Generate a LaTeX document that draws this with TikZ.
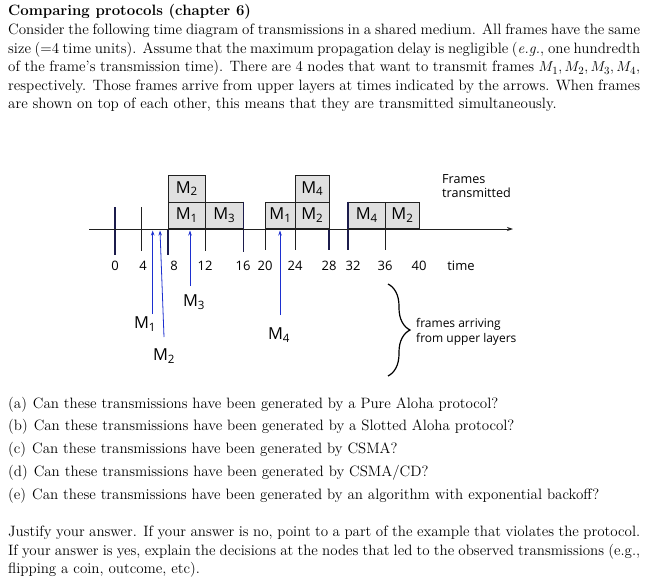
\documentclass[tikz,border=0pt]{standalone}
\usepackage{fontspec}
\setmainfont{lmroman12-regular.otf}[BoldFont=lmroman12-bold.otf,ItalicFont=lmroman12-italic.otf]
\newfontfamily\dfont{Open Sans}
\usetikzlibrary{arrows.meta,decorations.pathreplacing}
\definecolor{boxfill}{HTML}{E0E0E0}
\definecolor{boxline}{HTML}{202020}
\definecolor{arrblue}{HTML}{1C2FD0}
\definecolor{slotline}{HTML}{1C1C4C}
\begin{document}
\begin{tikzpicture}[x=1pt,y=-1pt,
  frm/.style={draw=boxline,fill=boxfill,line width=0.9pt,inner sep=0pt,minimum height=26.5pt,anchor=south west,font=\dfont\fontsize{16.5}{16}\selectfont},
  tk/.style={line width=0.9pt,boxline},
  slot/.style={line width=1.6pt,slotline},
  num/.style={font=\dfont\fontsize{13}{13}\selectfont,inner sep=0pt},
  lab/.style={font=\dfont\fontsize{12.6}{14.5}\selectfont,inner sep=0pt,align=left},
  mlab/.style={font=\dfont\fontsize{16.5}{16}\selectfont,inner sep=0pt},
  uparr/.style={arrblue,line width=0.8pt,-{Stealth[length=5pt,width=3.5pt]}},
  body/.style={inner sep=0pt,anchor=north west,font=\fontsize{15}{18.5}\selectfont},
  qline/.style={inner sep=0pt,anchor=west,font=\fontsize{15}{18.5}\selectfont}
]
\useasboundingbox (0,0) rectangle (645,583);
\fill[white] (0,0) rectangle (645,583);

% ---- text ----
\node[inner sep=0pt,anchor=west,font=\bfseries\fontsize{15}{18.5}\selectfont] (title) at (8,12) {Comparing protocols (chapter 6)};
\node[body] (intro) at (8,24) {\parbox{632pt}{Consider the following time diagram of transmissions in a shared medium. All frames have the same size (=4 time units). Assume that the maximum propagation delay is negligible (\textit{e.g.}, one hundredth of the frame's transmission time). There are 4 nodes that want to transmit frames $M_1,M_2,M_3,M_4$, respectively. Those frames arrive from upper layers at times indicated by the arrows. When frames are shown on top of each other, this means that they are transmitted simultaneously.}};

\node[qline] (qa) at (8,405) {(a)\hspace{6pt}Can these transmissions have been generated by a Pure Aloha protocol?};
\node[qline] (qb) at (8,427) {(b)\hspace{6pt}Can these transmissions have been generated by a Slotted Aloha protocol?};
\node[qline] (qc) at (8,450) {(c)\hspace{6pt}Can these transmissions have been generated by CSMA?};
\node[qline] (qd) at (8,473) {(d)\hspace{6pt}Can these transmissions have been generated by CSMA/CD?};
\node[qline] (qe) at (8,496) {(e)\hspace{6pt}Can these transmissions have been generated by an algorithm with exponential backoff?};
\node[body] (just) at (8,526) {\parbox{632pt}{Justify your answer. If your answer is no, point to a part of the example that violates the protocol. If your answer is yes, explain the decisions at the nodes that led to the observed transmissions (e.g., flipping a coin, outcome, etc).}};

% ---- slot / tick lines ----
\draw[slot] (115,207) -- (115,255);
\draw[tk] (141,207) -- (141,251);
\draw[slot] (167.7,229) -- (167.7,255);
\draw[tk] (205,229) -- (205,251);
\draw[tk] (265,229) -- (265,250);
\draw[tk] (295,229) -- (295,250);
\draw[tk] (385,229) -- (385,250);

% ---- frames ----
\node[frm,minimum width=37.3pt] (f1) at (167.7,229) {M\textsubscript{1}};
\node[frm,minimum width=37.3pt] (f2) at (167.7,202.5) {M\textsubscript{2}};
\node[frm,minimum width=37.7pt] (f3) at (205,229) {M\textsubscript{3}};
\node[frm,minimum width=30pt] (f4) at (265,229) {M\textsubscript{1}};
\node[frm,minimum width=33.7pt] (f5) at (295,229) {M\textsubscript{2}};
\node[frm,minimum width=33.7pt] (f6) at (295,202.5) {M\textsubscript{4}};
\node[frm,minimum width=37.3pt] (f7) at (347.7,229) {M\textsubscript{4}};
\node[frm,minimum width=34pt] (f8) at (385,229) {M\textsubscript{2}};

\draw[slot] (f3.north east) -- ++(0,50);
\draw[slot] (328.7,229) -- (328.7,250);
\draw[slot] (f7.north west) -- ++(0,48);

% ---- axis ----
\coordinate (ax0) at (89,229);
\coordinate (ax1) at (513,229);
\draw[line width=0.9pt,boxline,-{Stealth[length=6pt,width=4pt]}] (ax0) -- (ax1);

% ---- numbers ----
\node[num] (n0) at (115,266) {0};
\node[num] (n4) at (143,266) {4};
\node[num] (n8) at (174,266) {8};
\node[num] (n12) at (205,266) {12};
\node[num] (n16) at (243,266) {16};
\node[num] (n20) at (265,266) {20};
\node[num] (n24) at (295,266) {24};
\node[num] (n28) at (329,266) {28};
\node[num] (n32) at (353,266) {32};
\node[num] (n36) at (385,266) {36};
\node[num] (n40) at (419,266) {40};
\node[num] (ntime) at (461,266) {time};

\node[lab,anchor=west] (ft) at (442,186) {Frames\\transmitted};

% ---- arrivals ----
\node[mlab] (a3) at (194,302) {M\textsubscript{3}};
\node[mlab] (a1) at (145,324) {M\textsubscript{1}};
\node[mlab] (a2) at (164,356) {M\textsubscript{2}};
\node[mlab] (a4) at (279,335) {M\textsubscript{4}};

\coordinate (s1) at (152.7,314); \coordinate (e1) at (152.7,230.5);
\coordinate (s2) at (164,337);   \coordinate (e2) at (160,230.5);
\coordinate (s3) at (190,286);   \coordinate (e3) at (190,230.5);
\coordinate (s4) at (280,315);   \coordinate (e4) at (280,230.5);
\draw[uparr] (s1) -- (e1);
\draw[uparr] (s2) -- (e2);
\draw[uparr] (s3) -- (e3);
\draw[uparr] (s4) -- (e4);

\coordinate (bt) at (388,284);
\coordinate (bb) at (388,376);
\draw[line width=1.2pt,decorate,decoration={brace,amplitude=22pt,aspect=0.5}] (bt) -- (bb);
\node[lab,anchor=west,font=\dfont\fontsize{12}{15.5}\selectfont] (fa) at (416,332) {frames arriving\\from upper layers};
\end{tikzpicture}
\end{document}
